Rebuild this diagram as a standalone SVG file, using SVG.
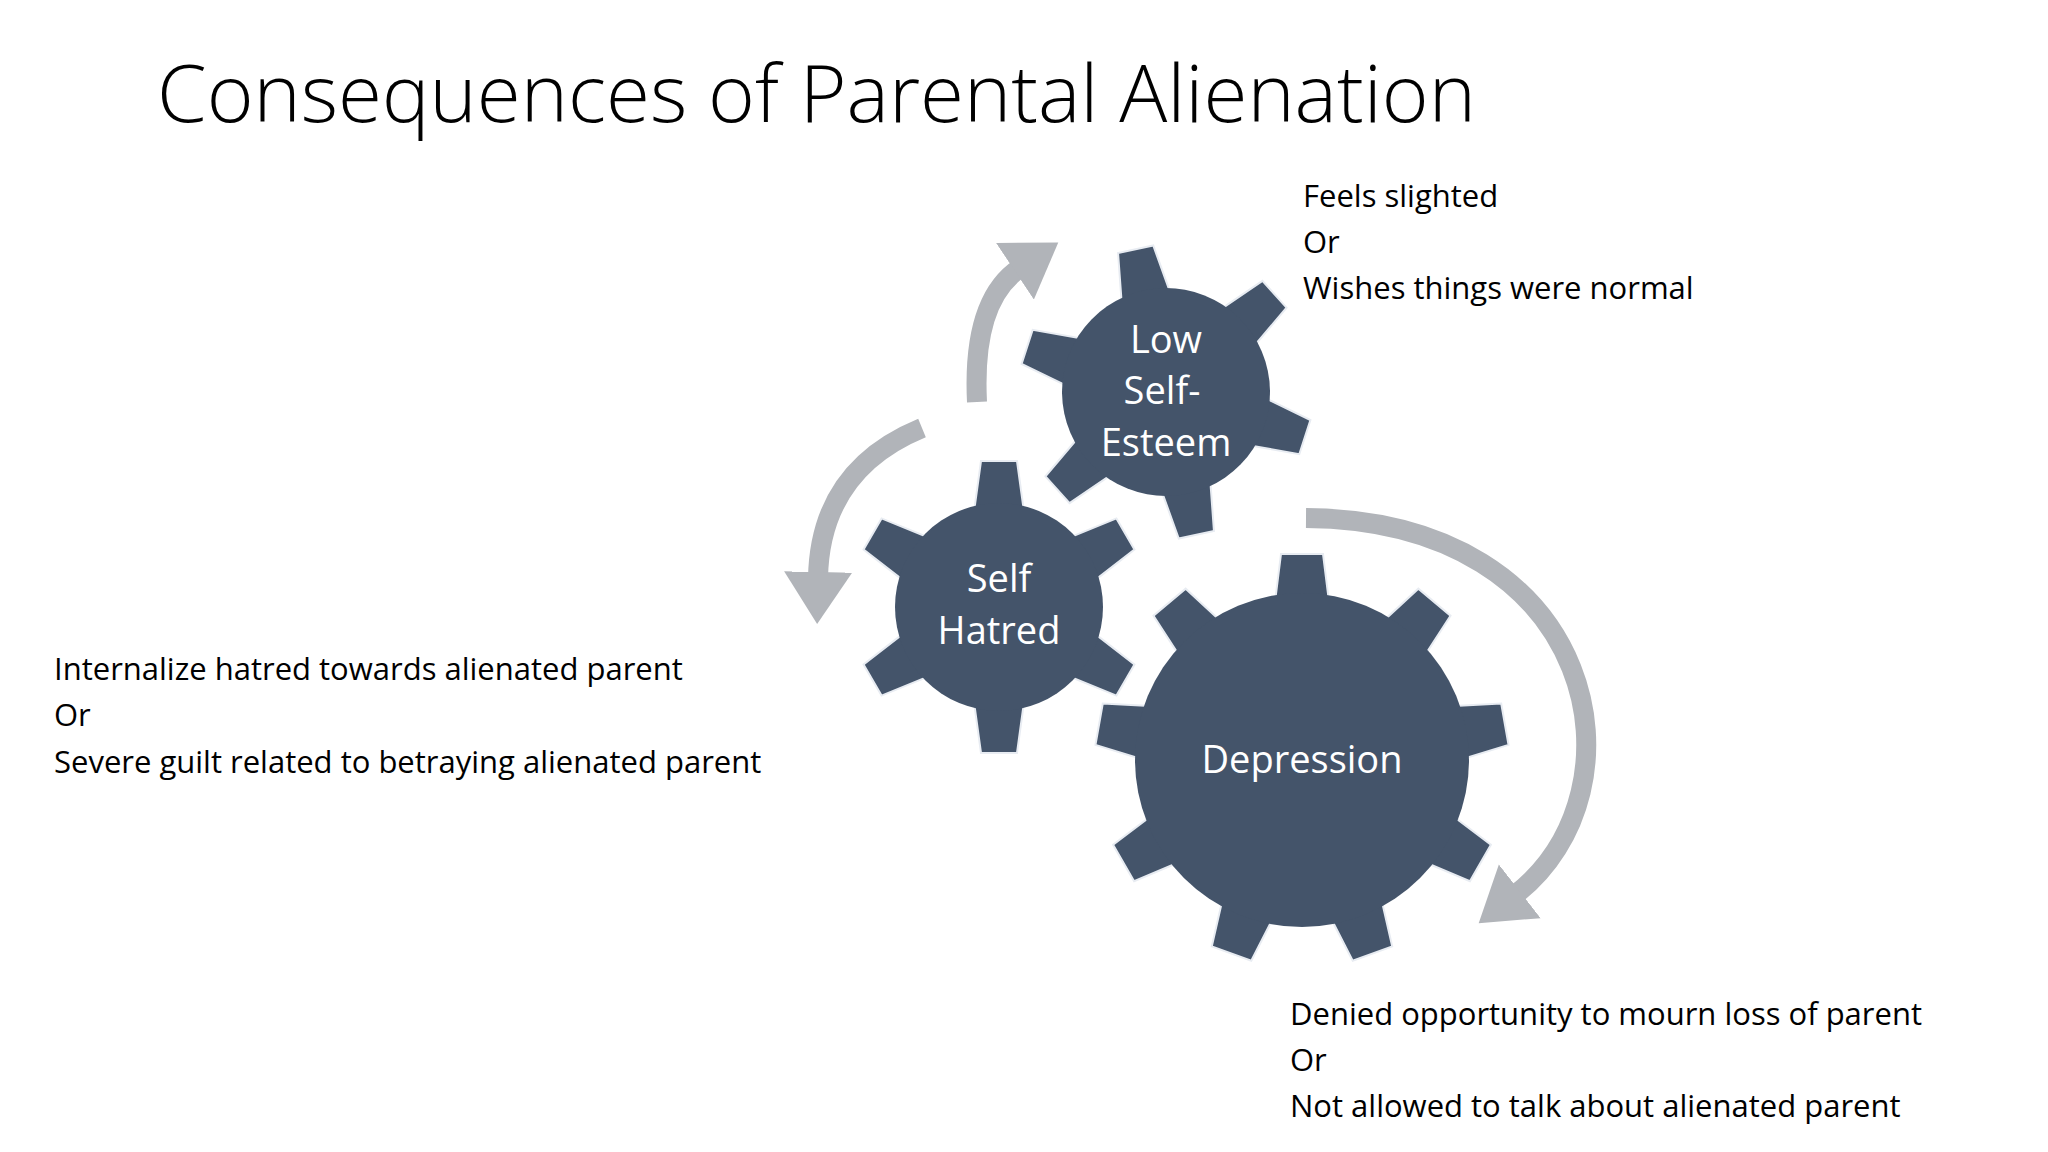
<svg xmlns="http://www.w3.org/2000/svg" width="2048" height="1152" viewBox="0 0 2048 1152">
<style>
.t{font-family:"Open Sans","Liberation Sans",sans-serif;fill:#000}
.side{font-family:"Open Sans","Liberation Sans",sans-serif;font-size:31px;fill:#000}
.lbl{font-family:"Open Sans","Liberation Sans",sans-serif;font-size:38px;fill:#fff;text-anchor:middle}
.gear{fill:#44546A;stroke:#E8ECF2;stroke-width:2}
.arr{fill:none;stroke:#B1B4B9;stroke-width:20}
</style>
<defs>
<marker id="ah" viewBox="0 -2 3 4" refX="0.3" refY="0" markerWidth="3" markerHeight="4" orient="auto">
<path d="M0,-1.7 L2.6,0 L0,1.7 z" fill="#B1B4B9"/>
</marker>
</defs>
<rect width="2048" height="1152" fill="#fff"/>
<text class="t" x="157" y="122" font-size="80" font-weight="300">Consequences of Parental Alienation</text>
<g id="connectors">
<path class="arr" d="M977 402 Q972 300 1020 268" marker-end="url(#ah)"/>
<path class="arr" d="M922 428 Q820 470 818 578" marker-end="url(#ah)"/>
<path class="arr" d="M1306 518 C1600 520 1650 790 1515 895" marker-end="url(#ah)"/>
</g>
<g id="low-self-esteem" transform="translate(1166,392) rotate(-12)">
<g class="gear">
<polygon points="-25,-95 -18,-146 18,-146 25,-95"/>
<polygon points="-25,-95 -18,-146 18,-146 25,-95" transform="rotate(60)"/>
<polygon points="-25,-95 -18,-146 18,-146 25,-95" transform="rotate(120)"/>
<polygon points="-25,-95 -18,-146 18,-146 25,-95" transform="rotate(180)"/>
<polygon points="-25,-95 -18,-146 18,-146 25,-95" transform="rotate(240)"/>
<polygon points="-25,-95 -18,-146 18,-146 25,-95" transform="rotate(300)"/>
<circle r="104" stroke="none"/>
</g>
</g>
<g id="low-self-esteem-label">
<text class="lbl" x="1166" y="353">Low</text>
<text class="lbl" x="1162" y="404">Self-</text>
<text class="lbl" x="1166" y="456">Esteem</text>
</g>
<g id="self-hatred" transform="translate(999,607)">
<g class="gear">
<polygon points="-25,-95 -18,-146 18,-146 25,-95"/>
<polygon points="-25,-95 -18,-146 18,-146 25,-95" transform="rotate(60)"/>
<polygon points="-25,-95 -18,-146 18,-146 25,-95" transform="rotate(120)"/>
<polygon points="-25,-95 -18,-146 18,-146 25,-95" transform="rotate(180)"/>
<polygon points="-25,-95 -18,-146 18,-146 25,-95" transform="rotate(240)"/>
<polygon points="-25,-95 -18,-146 18,-146 25,-95" transform="rotate(300)"/>
<circle r="104" stroke="none"/>
</g>
<text class="lbl" x="0" y="-15">Self</text>
<text class="lbl" x="0" y="37">Hatred</text>
</g>
<g id="depression" transform="translate(1302,760)">
<g class="gear">
<polygon points="-28,-150 -21,-206 21,-206 28,-150"/>
<polygon points="-28,-150 -21,-206 21,-206 28,-150" transform="rotate(40)"/>
<polygon points="-28,-150 -21,-206 21,-206 28,-150" transform="rotate(80)"/>
<polygon points="-28,-150 -21,-206 21,-206 28,-150" transform="rotate(120)"/>
<polygon points="-28,-150 -21,-206 21,-206 28,-150" transform="rotate(160)"/>
<polygon points="-28,-150 -21,-206 21,-206 28,-150" transform="rotate(200)"/>
<polygon points="-28,-150 -21,-206 21,-206 28,-150" transform="rotate(240)"/>
<polygon points="-28,-150 -21,-206 21,-206 28,-150" transform="rotate(280)"/>
<polygon points="-28,-150 -21,-206 21,-206 28,-150" transform="rotate(320)"/>
<circle r="167" stroke="none"/>
</g>
<text class="lbl" x="0" y="13">Depression</text>
</g>
<g id="text-top">
<text class="side" x="1303" y="207">Feels slighted</text>
<text class="side" x="1303" y="253">Or</text>
<text class="side" x="1303" y="299">Wishes things were normal</text>
</g>
<g id="text-left">
<text class="side" x="54" y="680">Internalize hatred towards alienated parent</text>
<text class="side" x="54" y="726">Or</text>
<text class="side" x="54" y="773">Severe guilt related to betraying alienated parent</text>
</g>
<g id="text-bottom">
<text class="side" x="1290" y="1025">Denied opportunity to mourn loss of parent</text>
<text class="side" x="1290" y="1071">Or</text>
<text class="side" x="1290" y="1117">Not allowed to talk about alienated parent</text>
</g>
</svg>
